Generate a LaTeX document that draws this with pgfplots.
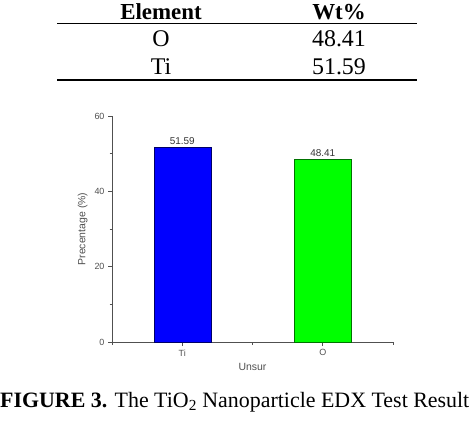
\documentclass[border=0pt]{standalone}
\usepackage{fontspec}
\setmainfont{Liberation Serif}
\newfontfamily\arial{Liberation Sans}
\usepackage{pgfplots}
\pgfplotsset{compat=1.18}
\definecolor{barblue}{RGB}{0,0,255}
\definecolor{bargreen}{RGB}{0,255,0}
\definecolor{axgray}{RGB}{80,80,80}
\begin{document}
\begin{tikzpicture}
\begin{scope}[x=1bp,y=-1bp]
\path (0,0) rectangle (474,422);
% table above the chart
\node[anchor=base, inner sep=0, font=\fontsize{23}{25}\selectfont\bfseries] at (161,19) {Element};
\node[anchor=base, inner sep=0, font=\fontsize{23}{25}\selectfont\bfseries] at (339,19) {Wt\%};
\draw[line width=1.2bp] (57,23.5) -- (417,23.5);
\node[anchor=base, inner sep=0, font=\fontsize{24}{26}\selectfont] at (161,46) {O};
\node[anchor=base, inner sep=0, font=\fontsize{24}{26}\selectfont] at (339,46) {48.41};
\node[anchor=base, inner sep=0, font=\fontsize{24}{26}\selectfont] at (161,74) {Ti};
\node[anchor=base, inner sep=0, font=\fontsize{24}{26}\selectfont] at (339,74) {51.59};
\draw[line width=1.2bp] (57,80) -- (417,80);
% caption
\node[anchor=base west, inner sep=0, font=\fontsize{22}{24}\selectfont] at (0,407)
  {\textbf{FIGURE 3.} The TiO\textsubscript{2} Nanoparticle EDX Test Result};
\end{scope}

\begin{axis}[
    at={(112bp,-342bp)}, anchor=south west,
    scale only axis, width=281bp, height=226bp,
    axis x line*=bottom, axis y line*=left,
    axis line style={-, draw=axgray, line width=0.8bp},
    xmin=0.5, xmax=2.5, ymin=0, ymax=60,
    enlargelimits=false, clip=false,
    xtick={1,2}, xticklabels={Ti,O},
    minor xtick={0.5,1.5,2.5},
    ytick={0,20,40,60}, minor ytick={10,30,50},
    tick align=outside,
    major tick length=4bp, minor tick length=2.5bp,
    tick style={draw=axgray, line width=0.8bp},
    /pgf/number format/assume math mode=true,
    tick label style={font=\arial\fontsize{9}{10}\selectfont, text=axgray},
    label style={font=\arial\fontsize{10.5}{12}\selectfont, text=axgray},
    xlabel={Unsur}, ylabel={Precentage (\%)},
    ybar, bar width=57bp,
    nodes near coords,
    nodes near coords style={font=\arial\fontsize{10}{11}\selectfont, text=black!80,
        /pgf/number format/fixed, /pgf/number format/precision=2,
        /pgf/number format/fixed zerofill},
]
\addplot[bar shift=0pt, fill=barblue, draw=black!60!barblue] coordinates {(1,51.59)};
\addplot[bar shift=0pt, fill=bargreen, draw=black!55!bargreen] coordinates {(2,48.41)};
\end{axis}
\end{tikzpicture}
\end{document}
